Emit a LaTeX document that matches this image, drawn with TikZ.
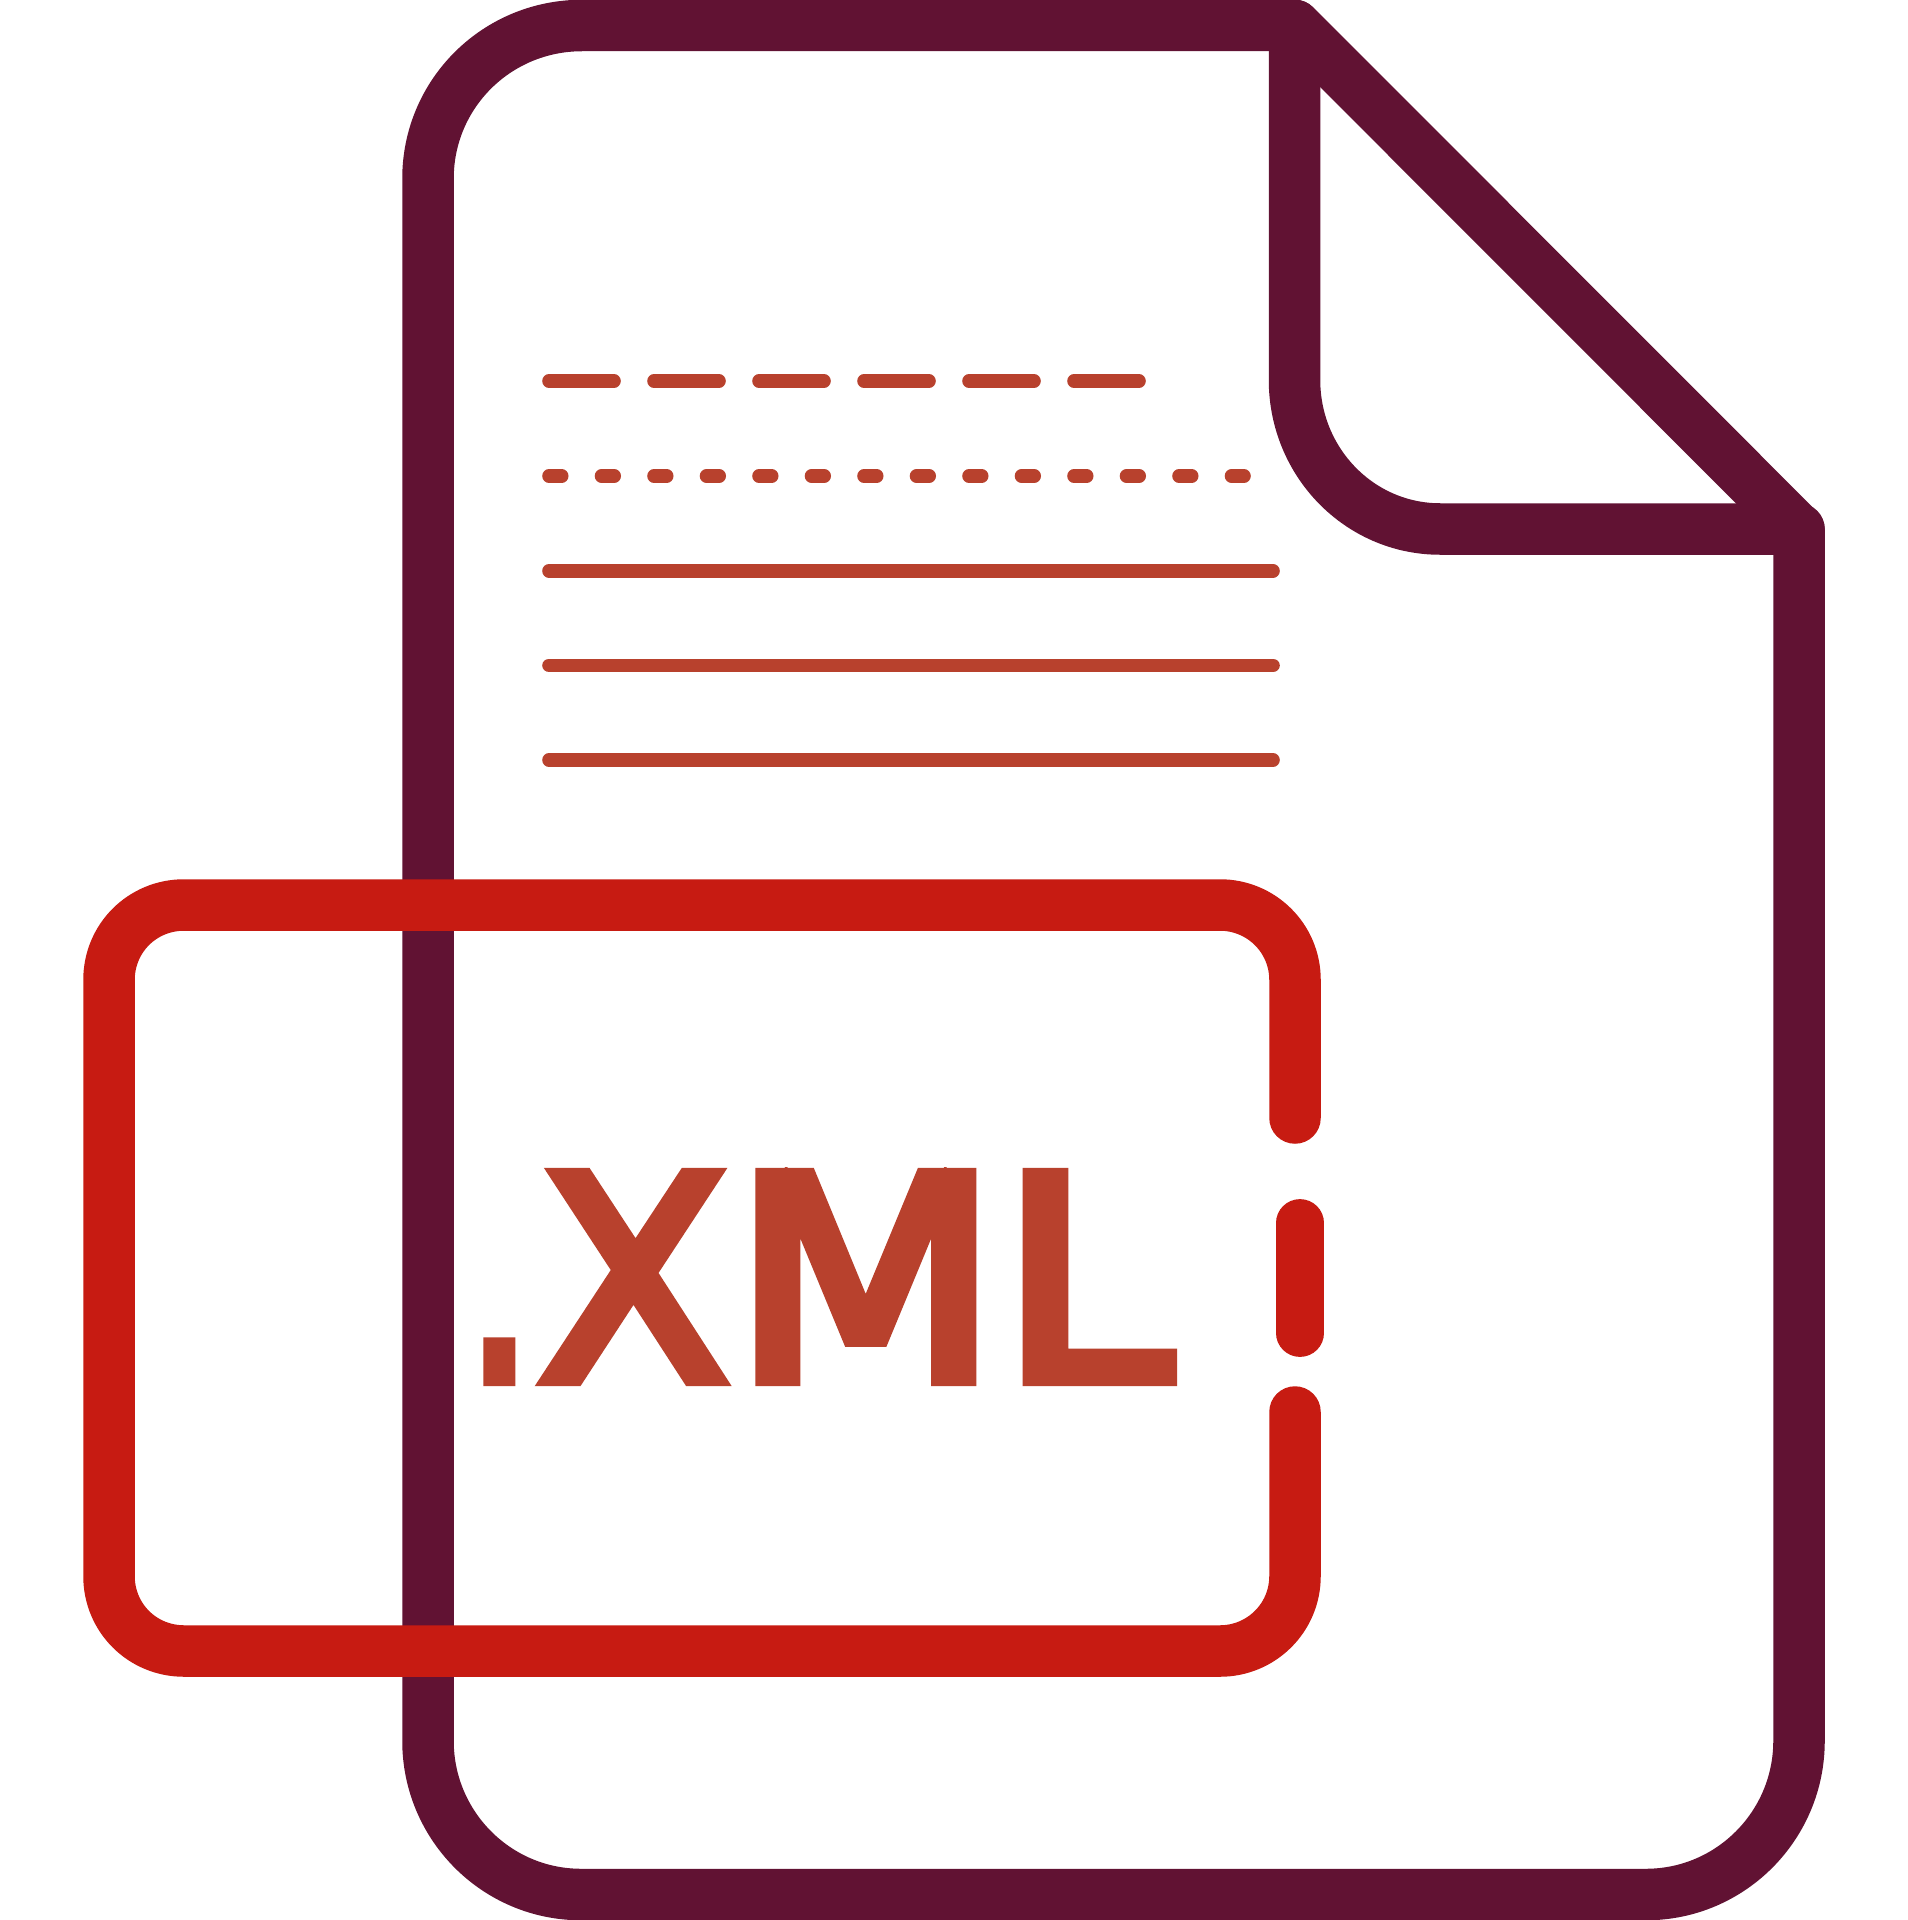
\documentclass[tikz,border=0pt]{standalone}
\usepackage{fontspec}
\newfontfamily\lblfont[FakeBold=5]{DejaVu Sans}
\definecolor{docdark}{HTML}{611233}
\definecolor{boxred}{HTML}{C71B12}
\definecolor{rust}{HTML}{B8412D}
\tikzset{
  docline/.style={draw=docdark,line width=25.75pt,line join=round,line cap=round},
  boxline/.style={draw=boxred,line width=25.75pt,line cap=round},
  textline/.style={draw=rust,line width=6.8pt,line cap=round},
}
\newcommand{\gl}[2]{\scalebox{#1}[1]{#2}}
\begin{document}
\begin{tikzpicture}[x=0.5pt,y=-0.5pt]
\useasboundingbox (0,0) rectangle (1907,1920);
\fill[white] (0,0) rectangle (1907,1920);
% document outline
\draw[docline] (582,25.5) -- (1295,25.5) -- (1799,530) -- (1799,1741)
  .. controls (1799,1825.5) and (1730.5,1894.5) .. (1646,1894.5)
  -- (581,1894.5)
  .. controls (496.5,1894.5) and (428,1825.5) .. (428,1741)
  -- (428,178.5)
  .. controls (428,94) and (496.5,25.5) .. (582,25.5) -- cycle;
% folded corner
\draw[docline] (1294.5,25.5) -- (1294.5,380)
  .. controls (1294.5,462.3) and (1359.6,529) .. (1440,529) -- (1799,529);
% text lines
\draw[textline,dash pattern=on 32.5pt off 20pt] (549,381) -- (1139,381);
\draw[textline,dash pattern=on 6.35pt off 19.9pt] (549,476) -- (1244,476);
\draw[textline] (549,570.8) -- (1273,570.8);
\draw[textline] (549,665.3) -- (1273,665.3);
\draw[textline] (549,760) -- (1273,760);
% red box
\draw[boxline] (1295,1118) -- (1295,980)
  .. controls (1295,938) and (1261,905) .. (1220,905)
  -- (184,905)
  .. controls (142.5,905) and (109,938) .. (109,980)
  -- (109,1576)
  .. controls (109,1618) and (142.5,1651) .. (184,1651)
  -- (1220,1651)
  .. controls (1261,1651) and (1295,1618) .. (1295,1576)
  -- (1295,1412);
\draw[boxline,line width=23.9pt] (1300,1223) -- (1300,1333);
% label
\begin{scope}
\clip (470,1167) rectangle (1200,1392);
\node[anchor=base west,inner sep=0pt,text=rust] (label) at (465.7,1379)
  {\fontsize{140}{140}\selectfont\lblfont
   \gl{0.75}{.}\kern3.3pt\gl{0.98}{X}\kern2.73pt\gl{1.10}{M}\kern0.83pt\gl{1.095}{L}};
\end{scope}
\end{tikzpicture}
\end{document}
